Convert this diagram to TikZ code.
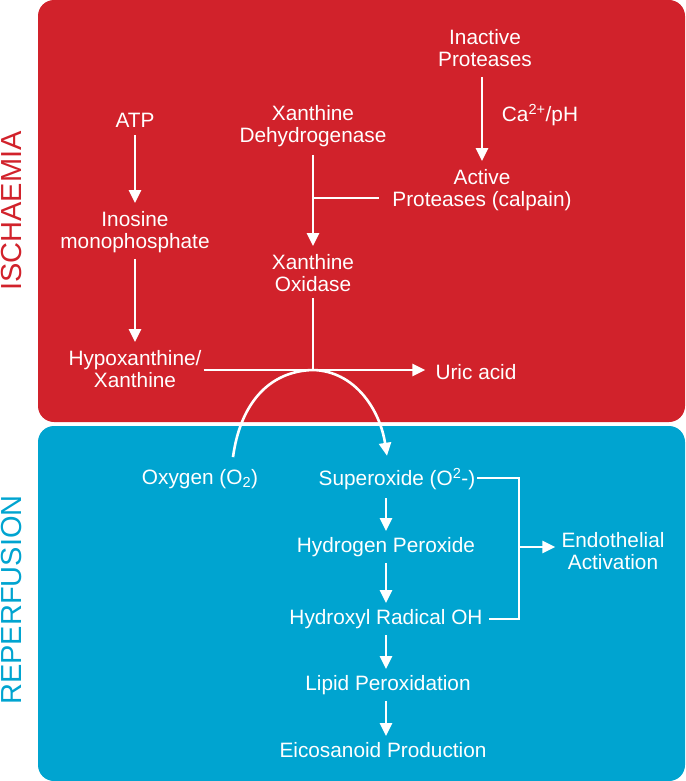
\documentclass[tikz,border=0pt]{standalone}
\usepackage{fontspec}
\setmainfont{Liberation Sans}
\usetikzlibrary{arrows.meta,calc}
\definecolor{ired}{RGB}{209,34,43}
\definecolor{rblue}{RGB}{0,164,208}
\begin{document}
\begin{tikzpicture}[x=1pt,y=-1pt,
  txt/.style={text=white,font=\fontsize{20.8}{22}\selectfont,align=center,inner sep=0pt},
  side/.style={rotate=90,inner sep=0pt,font=\fontsize{29}{29}\selectfont},
  ln/.style={draw=white,line width=2.6pt},
  arr/.style={ln,-{Triangle[length=13pt,width=12pt]}},
]
\useasboundingbox (0,0) rectangle (685,781);
\fill[ired,rounded corners=16pt] (38,0) rectangle (685,422);
\fill[rblue,rounded corners=16pt] (38,426) rectangle (685,781);

\node[side,text=ired] (isch) at (12,211) {ISCHAEMIA};
\node[side,text=rblue] (rep) at (12,600) {REPERFUSION};

% ischaemia nodes
\node[txt] (inact) at (485,48) {Inactive\\Proteases};
\node[txt] (ca) at (540,115) {Ca\textsuperscript{2+}/pH};
\node[txt] (act) at (482,190) {Active\\Proteases (calpain)};
\node[txt] (atp) at (135,120) {ATP};
\node[txt] (imp) at (135,232) {Inosine\\monophosphate};
\node[txt] (hyp) at (135,369) {Hypoxanthine/\\Xanthine};
\node[txt] (xdh) at (313,126) {Xanthine\\Dehydrogenase};
\node[txt] (xo) at (313,273) {Xanthine\\Oxidase};
\node[txt] (uric) at (476,372) {Uric acid};
\coordinate (br) at (313,198);
\coordinate (jn) at (313,370);

% reperfusion nodes
\node[txt] (oxy) at (200,479) {Oxygen (O\textsubscript{2})};
\node[txt] (sup) at (397,479) {Superoxide (O\textsuperscript{2}-)};
\node[txt] (hp) at (386,547) {Hydrogen Peroxide};
\node[txt] (hr) at (386,619) {Hydroxyl Radical OH};
\node[txt] (lp) at (388,685) {Lipid Peroxidation};
\node[txt] (eic) at (383,750) {Eicosanoid Production};
\node[txt] (endo) at (613,551) {Endothelial\\Activation};
\coordinate (bt) at (519,478);
\coordinate (bb) at (519,619);
\coordinate (bm) at (519,547);

% connectors
\draw[arr,shorten <=10pt,shorten >=8pt] (inact.south -| 482,0) -- (act.north -| 482,0);
\draw[arr,shorten <=0pt,shorten >=8pt] (atp) ++(0,15) -- (imp.north);
\draw[arr,shorten <=6pt,shorten >=8pt] (imp.south) -- (hyp.north);
\draw[arr,shorten <=8pt,shorten >=8pt] (xdh.south) -- (xo.north);
\draw[ln] ([xshift=-13pt,yshift=-8pt]act.west) -- (br);
\draw[ln,shorten <=6pt] (xo.south) -- (jn);
\draw[arr,shorten <=2pt,shorten >=10pt] (hyp.east |- jn) -- (uric.west |- jn);
\draw[arr] ([xshift=33pt,yshift=12pt]oxy.north) .. controls (240,405) and (268,371) .. (jn)
  .. controls (355,371) and (380,410) .. ([xshift=-10pt,yshift=12pt]sup.north);

\draw[arr,shorten <=8pt,shorten >=6pt] (sup.south -| hp) -- (hp.north);
\draw[arr,shorten <=6pt,shorten >=6pt] (hp.south) -- (hr.north);
\draw[arr,shorten <=6pt,shorten >=6pt] (hr.south) -- (lp.north -| hr);
\draw[arr,shorten <=6pt,shorten >=6pt] (lp.south -| hr) -- (eic.north -| hr);

\draw[ln] ([xshift=2pt]sup.east |- bt) -- (bt) -- (bb) -- ([xshift=6pt]hr.east |- bb);
\draw[arr,shorten >=6pt] (bm) -- (endo.west |- bm);
\end{tikzpicture}
\end{document}
